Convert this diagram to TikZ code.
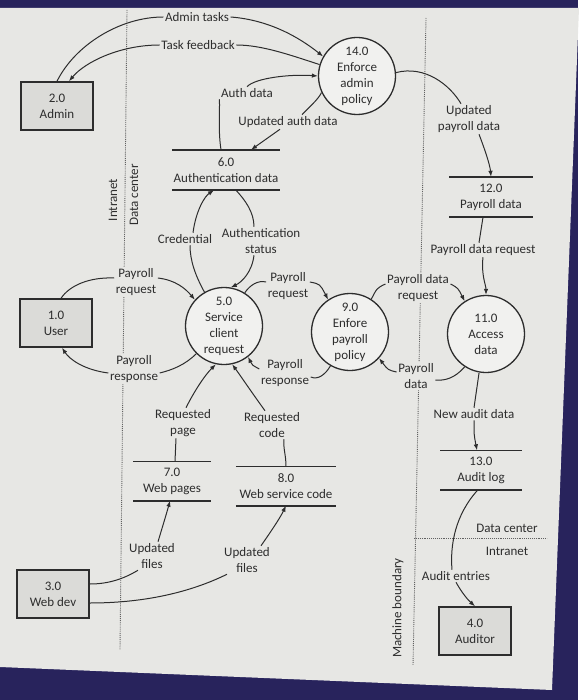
\documentclass[tikz,border=0pt]{standalone}
\usepackage{fontspec}
\setmainfont{Carlito}
\usepackage{xcolor}
\usetikzlibrary{arrows.meta,positioning}
\definecolor{paper}{RGB}{231,231,228}
\definecolor{navy}{RGB}{40,35,92}
\definecolor{ink}{RGB}{45,45,45}
\definecolor{boxfill}{RGB}{219,219,216}

\begin{document}
\begin{tikzpicture}[x=1pt,y=-1pt,
  font=\fontsize{13}{16}\selectfont,
  entity/.style={draw=ink, line width=1.5pt, fill=boxfill, text=ink, align=center,
    minimum width=72pt, minimum height=48pt},
  process/.style={circle, draw=ink, line width=1.3pt, fill=paper!60!white, text=ink,
    align=center, inner sep=0pt, minimum size=77pt},
  store/.style={text=ink, align=center, inner sep=0pt, minimum height=40pt},
  storeline/.style={draw=ink, line width=1.6pt},
  lbl/.style={fill=paper, text=ink, align=center, inner sep=1.5pt},
  flow/.style={draw=ink, line width=1pt, -{Latex[length=6pt,width=4.5pt]}},
  boundary/.style={draw=ink!75, densely dotted, line width=0.9pt}]
  \useasboundingbox (0,0) rectangle (578,700);
  \fill[navy] (0,0) rectangle (578,700);
  \fill[paper] (0,8) -- (579,8) -- (552,690) -- (0,667) -- cycle;

  % Boundaries
  \draw[boundary] (127,10) -- (120,650);
  \draw[boundary] (426,18) -- (413,665);
  \draw[boundary] (414,538) -- (547,538);
  \node[rotate=90, text=ink] (tIntranet) at (113,200) {Intranet};
  \node[rotate=90, text=ink] (tDataCenter) at (134,195) {Data center};
  \node[rotate=90, fill=paper, inner sep=1pt, text=ink] (tMachine) at (398,608) {Machine boundary};
  \node[lbl] (tDataCenterR) at (507,528) {Data center};
  \node[lbl] (tIntranetR) at (507,551) {Intranet};

  % Entities
  \node[entity] (admin) at (57,106) {2.0\\Admin};
  \node[entity] (user) at (56,323) {1.0\\User};
  \node[entity] (webdev) at (53,594) {3.0\\Web dev};
  \node[entity] (auditor) at (475,631) {4.0\\Auditor};

  % Processes
  \node[process] (enforceadmin) at (357,76) {14.0\\Enforce\\admin\\policy};
  \node[process] (service) at (224,326) {5.0\\Service\\client\\request};
  \node[process] (enforcepay) at (350,332) {9.0\\Enfore\\payroll\\policy};
  \node[process] (access) at (486,334) {11.0\\Access\\data};

  % Data stores
  \node[store, minimum width=107pt] (authstore) at (226,170) {6.0\\Authentication data};
  \node[store, minimum width=83pt] (paystore) at (491,197) {12.0\\Payroll data};
  \node[store, minimum width=77pt, minimum height=39pt] (pagestore) at (172,481) {7.0\\Web pages};
  \node[store, minimum width=100pt, minimum height=39pt] (codestore) at (286,486) {8.0\\Web service code};
  \node[store, minimum width=81pt, minimum height=39pt] (auditstore) at (481,470) {13.0\\Audit log};
  \foreach \s in {authstore,paystore,pagestore,codestore,auditstore}
    \draw[storeline] (\s.north west) -- (\s.north east) (\s.south west) -- (\s.south east);

  % Flow labels
  \node[lbl] (tAdminTasks) at (197,17) {Admin tasks};
  \node[lbl] (tTaskFeedback) at (198,45) {Task feedback};
  \node[lbl] (tAuthData) at (247,93) {Auth data};
  \node[lbl] (tUpdAuth) at (288,122) {Updated auth data};
  \node[lbl] (tUpdPay) at (469,119) {Updated\\payroll data};
  \node[lbl] (tCredential) at (185,239) {Credential};
  \node[lbl] (tAuthStatus) at (261,241) {Authentication\\status};
  \node[lbl] (tPayReqL) at (136,282) {Payroll\\request};
  \node[lbl] (tPayRespL) at (134,369) {Payroll\\response};
  \node[lbl] (tPayReqM) at (288,286) {Payroll\\request};
  \node[lbl] (tPayRespM) at (285,373) {Payroll\\response};
  \node[lbl] (tPayDataReq) at (418,288) {Payroll data\\request};
  \node[lbl] (tPayData) at (416,376) {Payroll\\data};
  \node[lbl] (tPayDataReqB) at (483,250) {Payroll data request};
  \node[lbl] (tNewAudit) at (474,414) {New audit data};
  \node[lbl] (tAuditEntries) at (456,576) {Audit entries};
  \node[lbl] (tReqPage) at (183,423) {Requested\\page};
  \node[lbl] (tReqCode) at (272,425) {Requested\\code};
  \node[lbl] (tUpdFilesL) at (152,556) {Updated\\files};
  \node[lbl] (tUpdFilesR) at (247,560) {Updated\\files};

  % Admin flows
  \draw[flow] (admin.north) .. controls (75,45) and (120,17) .. (tAdminTasks.west)
    (tAdminTasks.east) .. controls (270,20) and (300,38) .. (enforceadmin.150);
  \draw[flow] (enforceadmin.163) .. controls (290,55) and (262,45) .. (tTaskFeedback.east)
    (tTaskFeedback.west) .. controls (120,45) and (85,62) .. ([xshift=12pt]admin.north);
  \draw[flow] ([xshift=-5pt]authstore.north) .. controls (218,130) and (220,112) .. (tAuthData.south west)
    (tAuthData.north) .. controls (255,78) and (290,74) .. (enforceadmin.180);
  \draw[flow] (enforceadmin.205) .. controls (318,100) and (308,108) .. ([xshift=14pt]tUpdAuth.north)
    ([xshift=-8pt]tUpdAuth.south) -- ([xshift=25pt]authstore.north);
  \draw[flow] (enforceadmin.5) .. controls (425,65) and (450,85) .. ([xshift=-8pt]tUpdPay.north)
    ([xshift=10pt]tUpdPay.south) .. controls (485,150) and (490,165) .. (paystore.north);

  % Service flows
  \draw[flow] (service.120) .. controls (195,275) and (190,260) .. ([xshift=5pt]tCredential.south)
    ([xshift=8pt]tCredential.north) .. controls (196,210) and (205,196) .. ([xshift=-12pt]authstore.south);
  \draw[flow] ([xshift=10pt]authstore.south) .. controls (245,200) and (254,212) .. ([xshift=-7pt]tAuthStatus.north)
    ([xshift=-7pt]tAuthStatus.south) .. controls (252,272) and (242,282) .. (service.80);
  \draw[flow] ([xshift=5pt]user.north) .. controls (70,285) and (90,277) .. ([yshift=4pt]tPayReqL.west)
    ([yshift=4pt]tPayReqL.east) .. controls (175,280) and (185,288) .. (service.138);
  \draw[flow] (service.225) .. controls (185,365) and (172,370) .. ([yshift=-4pt]tPayRespL.east)
    ([yshift=-4pt]tPayRespL.west) .. controls (85,370) and (70,360) .. ([xshift=6pt]user.south);
  \draw[flow] (service.58) .. controls (250,285) and (258,280) .. ([yshift=4pt]tPayReqM.west)
    ([yshift=4pt]tPayReqM.east) .. controls (320,284) .. (enforcepay.124);
  \draw[flow] (enforcepay.240) .. controls (325,375) and (318,380) .. ([yshift=-4pt]tPayRespM.east)
    ([yshift=4pt]tPayRespM.west) .. controls (252,365) .. (service.308);
  \draw[flow] (enforcepay.57) .. controls (377,288) .. ([yshift=4pt]tPayDataReq.west)
    ([yshift=4pt]tPayDataReq.east) .. controls (458,288) .. (access.123);
  \draw[flow] (access.237) .. controls (455,378) and (445,381) .. ([yshift=-4pt]tPayData.east)
    ([yshift=4pt]tPayData.west) .. controls (388,370) .. (enforcepay.-42);
  \draw[flow] ([xshift=-8pt]paystore.south) -- ([xshift=-4pt]tPayDataReqB.north)
    (tPayDataReqB.south) .. controls (481,275) and (486,285) .. (access.north);

  % Audit flows
  \draw[flow] ([xshift=-7pt]access.south) .. controls (476,390) .. (tNewAudit.north)
    (tNewAudit.south) .. controls (474,435) .. ([xshift=-4pt]auditstore.north);
  \draw[flow] ([xshift=-3pt]auditstore.south) .. controls (455,515) and (450,545) .. ([xshift=-4pt]tAuditEntries.north)
    (tAuditEntries.south) .. controls (462,593) and (468,600) .. (auditor.north);

  % Web flows
  \draw[flow] ([xshift=3pt]pagestore.north) -- ([xshift=-7pt]tReqPage.south)
    ([xshift=3pt]tReqPage.north) .. controls (195,390) and (205,375) .. (service.258);
  \draw[flow] (codestore.north) .. controls (286,455) and (283,448) .. ([xshift=12pt]tReqCode.south)
    ([xshift=-7pt]tReqCode.north) .. controls (250,390) and (240,375) .. (service.282);
  \draw[flow] ([yshift=10pt]webdev.east) .. controls (110,584) and (125,578) .. ([xshift=-14pt]tUpdFilesL.south)
    ([xshift=6pt]tUpdFilesL.north) .. controls (163,525) and (167,512) .. ([xshift=-2pt]pagestore.south);
  \draw[flow] ([yshift=-9pt]webdev.east) .. controls (150,603) and (195,590) .. ([xshift=-20pt]tUpdFilesR.south)
    ([xshift=14pt]tUpdFilesR.north) .. controls (272,530) and (280,518) .. (codestore.south);
\end{tikzpicture}
\end{document}
